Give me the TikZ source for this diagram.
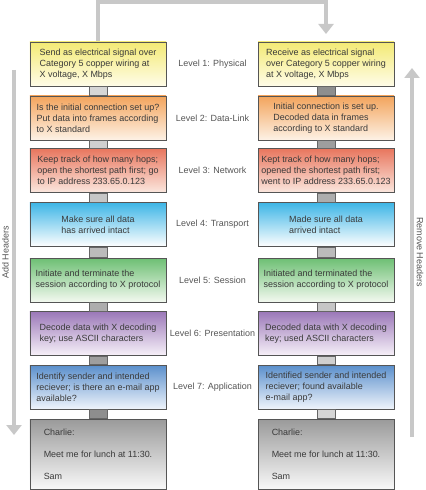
\documentclass[tikz,border=0pt]{standalone}
\usepackage{fontspec}
\setmainfont{Liberation Sans}
\usetikzlibrary{arrows.meta}
\definecolor{boxline}{HTML}{555555}
\definecolor{txt}{HTML}{3A3A3A}
\definecolor{labc}{HTML}{555555}
\definecolor{arrowc}{HTML}{C8C8C8}
\definecolor{connline}{HTML}{666666}
\definecolor{yT}{HTML}{F3EA74}\definecolor{yB}{HTML}{FFFCE8}
\definecolor{oT}{HTML}{F3A45C}\definecolor{oB}{HTML}{FDF2E6}
\definecolor{rT}{HTML}{E8765E}\definecolor{rB}{HTML}{FBE7DE}
\definecolor{bT}{HTML}{3DB5E6}\definecolor{bB}{HTML}{FFFFFF}
\definecolor{gT}{HTML}{6DBF73}\definecolor{gB}{HTML}{F3F9F0}
\definecolor{pT}{HTML}{9B78B8}\definecolor{pB}{HTML}{F7F1F9}
\definecolor{sT}{HTML}{5A8FCC}\definecolor{sB}{HTML}{EFF4FB}
\definecolor{kT}{HTML}{9A9A9A}\definecolor{kB}{HTML}{F8F8F8}
\definecolor{g1}{HTML}{D6D6D6}
\definecolor{g2}{HTML}{CFCFCF}
\definecolor{g3}{HTML}{C6C6C6}
\definecolor{g4}{HTML}{BBBBBB}
\definecolor{g5}{HTML}{ADADAD}
\definecolor{g6}{HTML}{9E9E9E}
\definecolor{g7}{HTML}{8E8E8E}
\begin{document}
\begin{tikzpicture}[x=1bp,y=-1bp,
  box/.style={draw=boxline, line width=0.8bp, minimum width=136bp, minimum height=44bp,
    align=left, inner sep=0pt, font=\fontsize{9}{11}\selectfont, text=txt},
  cY/.style={top color=yT, bottom color=yB},
  cO/.style={top color=oT, bottom color=oB},
  cR/.style={top color=rT, bottom color=rB},
  cB/.style={top color=bT, bottom color=bB},
  cG/.style={top color=gT, bottom color=gB},
  cP/.style={top color=pT, bottom color=pB},
  cS/.style={top color=sT, bottom color=sB},
  cK/.style={top color=kT, bottom color=kB},
  lab/.style={font=\fontsize{9}{11}\selectfont, text=labc, inner sep=0pt},
  garrow/.style={draw=arrowc, line width=4bp,
    -{Triangle[width=15bp,length=10bp,fill=arrowc]}},
  conn/.style={draw=connline, line width=0.6bp, fill=#1}
]
\useasboundingbox (0,0) rectangle (425,490);

% arrows
\draw[garrow] (98,42) |- (326,2) -- (326,34);
\coordinate (aTop) at (14,70);
\coordinate (aBot) at (14,435);
\coordinate (rBot) at (412,437);
\coordinate (rTop) at (412,68);
\draw[garrow] (aTop) -- (aBot);
\draw[garrow] (rBot) -- (rTop);

% left boxes
\node[box,cY] (b1l) at (98,64) {Send as electrical signal over\\Category 5 copper wiring at\\X voltage, X Mbps};
\node[box,cO] (b2l) at (98,118) {Is the initial connection set up?\\Put data into frames according\\to X standard};
\node[box,cR] (b3l) at (98,170.5) {Keep track of how many hops;\\open the shortest path first; go\\to IP address 233.65.0.123};
\node[box,cB] (b4l) at (98,224.5) {Make sure all data\\has arrived intact};
\node[box,cG] (b5l) at (98,280) {Initiate and terminate the\\session according to X protocol};
\node[box,cP] (b6l) at (98,333.5) {Decode data with X decoding\\key; use ASCII characters};
\node[box,cS] (b7l) at (98,387) {Identify sender and intended\\reciever; is there an e-mail app\\available?};
\node[box,cK,minimum height=70bp] (b8l) at (98,454) {Charlie:\\[11bp]Meet me for lunch at 11:30.\\[11bp]Sam};

% right boxes
\node[box,cY] (b1r) at (326,64) {Receive as electrical signal\\over Category 5 copper wiring\\at X voltage, X Mbps};
\node[box,cO] (b2r) at (326,118) {Initial connection is set up.\\Decoded data in frames\\according to X standard};
\node[box,cR] (b3r) at (326,170.5) {Kept track of how many hops;\\opened the shortest path first;\\went to IP address 233.65.0.123};
\node[box,cB] (b4r) at (326,224.5) {Made sure all data\\arrived intact};
\node[box,cG] (b5r) at (326,280) {Initiated and terminated the\\session according to X protocol};
\node[box,cP] (b6r) at (326,333.5) {Decoded data with X decoding\\key; used ASCII characters};
\node[box,cS] (b7r) at (326,387) {Identified sender and intended\\reciever; found available\\e-mail app?};
\node[box,cK,minimum height=70bp] (b8r) at (326,454) {Charlie:\\[11bp]Meet me for lunch at 11:30.\\[11bp]Sam};

% connectors left
\draw[conn=g1] ([xshift=-9bp]b1l.south) rectangle ([xshift=9bp]b2l.north);
\draw[conn=g2] ([xshift=-9bp]b2l.south) rectangle ([xshift=9bp]b3l.north);
\draw[conn=g3] ([xshift=-9bp]b3l.south) rectangle ([xshift=9bp]b4l.north);
\draw[conn=g4] ([xshift=-9bp]b4l.south) rectangle ([xshift=9bp]b5l.north);
\draw[conn=g5] ([xshift=-9bp]b5l.south) rectangle ([xshift=9bp]b6l.north);
\draw[conn=g6] ([xshift=-9bp]b6l.south) rectangle ([xshift=9bp]b7l.north);
\draw[conn=g7] ([xshift=-9bp]b7l.south) rectangle ([xshift=9bp]b8l.north);
% connectors right
\draw[conn=g7] ([xshift=-9bp]b1r.south) rectangle ([xshift=9bp]b2r.north);
\draw[conn=g6] ([xshift=-9bp]b2r.south) rectangle ([xshift=9bp]b3r.north);
\draw[conn=g5] ([xshift=-9bp]b3r.south) rectangle ([xshift=9bp]b4r.north);
\draw[conn=g4] ([xshift=-9bp]b4r.south) rectangle ([xshift=9bp]b5r.north);
\draw[conn=g3] ([xshift=-9bp]b5r.south) rectangle ([xshift=9bp]b6r.north);
\draw[conn=g2] ([xshift=-9bp]b6r.south) rectangle ([xshift=9bp]b7r.north);
\draw[conn=g1] ([xshift=-9bp]b7r.south) rectangle ([xshift=9bp]b8r.north);

% level labels
\node[lab] (lab1) at (212.5,64) {Level 1: Physical};
\node[lab] (lab2) at (212.5,118) {Level 2: Data-Link};
\node[lab] (lab3) at (212.5,170.5) {Level 3: Network};
\node[lab] (lab4) at (212.5,224.5) {Level 4: Transport};
\node[lab] (lab5) at (212.5,280) {Level 5: Session};
\node[lab] (lab6) at (212.5,333.5) {Level 6: Presentation};
\node[lab] (lab7) at (212.5,387) {Level 7: Application};

\node[lab,rotate=90] (addH) at (5.5,252.5) {Add Headers};
\node[lab,rotate=-90] (remH) at (420,252) {Remove Headers};
\end{tikzpicture}
\end{document}
